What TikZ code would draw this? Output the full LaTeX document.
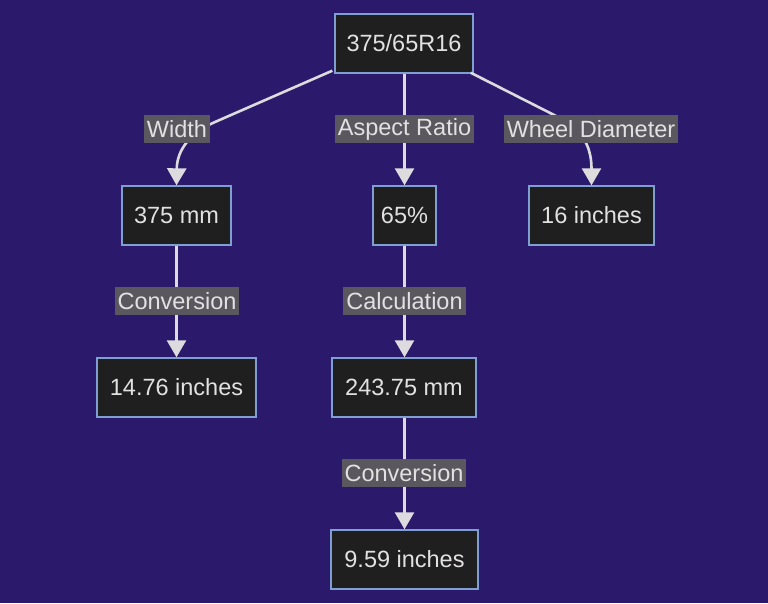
\documentclass[tikz,border=0pt]{standalone}
\usepackage{fontspec}
\setmainfont{Liberation Sans}
\usetikzlibrary{arrows.meta}
\definecolor{bgc}{HTML}{2B1A6C}
\definecolor{nodefill}{HTML}{1F1F1F}
\definecolor{nodeline}{HTML}{7F9FD2}
\definecolor{txt}{HTML}{E2E0E0}
\definecolor{lblfill}{HTML}{5A585E}
\definecolor{edgec}{HTML}{DDDBDD}
\tikzset{
  box/.style={draw=nodeline, line width=1.4pt, fill=nodefill, text=txt,
    minimum height=59pt, inner sep=0pt, font=\fontsize{23.5}{27}\selectfont},
  lbl/.style={fill=lblfill, text=txt, minimum height=28pt, inner xsep=3pt, inner ysep=0pt,
    font=\fontsize{23.5}{27}\selectfont},
  edge/.style={draw=edgec, line width=2.6pt, -{Triangle[width=19pt,length=17pt]}},
}
\begin{document}
\begin{tikzpicture}[x=1pt,y=-1pt]
\fill[bgc] (0,0) rectangle (768,603);
\useasboundingbox (0,0) rectangle (768,603);
\node[box, minimum width=138pt] (top) at (404,43.5) {375/65R16};
\node[box, minimum width=109pt] (w) at (176.5,215.5) {375 mm};
\node[box, minimum width=63pt] (ar) at (404.5,215.5) {65\%};
\node[box, minimum width=125pt] (wd) at (591.5,215.5) {16 inches};
\node[box, minimum width=159pt] (wi) at (176.5,387.5) {14.76 inches};
\node[box, minimum width=144pt] (sh) at (404,387.5) {243.75 mm};
\node[box, minimum width=147pt] (si) at (404.5,559.5) {9.59 inches};
% edges
\draw[edge] (top.south west) ++(-2,-3) -- (215,122) .. controls (190,133) and (177,150) .. (w.north);
\draw[edge] (top.south east) ++(-3,-1) -- (560,118) .. controls (585,131) and (591.5,150) .. (wd.north);
\draw[edge] (top.south -| ar.north) -- (ar.north);
\draw[edge] (w.south) -- (wi.north);
\draw[edge] (ar.south) -- (sh.north -| ar.south);
\draw[edge] (sh.south -| si.north) -- (si.north);
% labels
\node[lbl] (lw) at (177,129) {Width};
\node[lbl] (lar) at (404.5,129) {Aspect Ratio};
\node[lbl] (lwd) at (591,129) {Wheel Diameter};
\node[lbl] (lc1) at (177,301) {Conversion};
\node[lbl] (lca) at (404.5,301) {Calculation};
\node[lbl] (lc2) at (404,473) {Conversion};
\end{tikzpicture}
\end{document}
